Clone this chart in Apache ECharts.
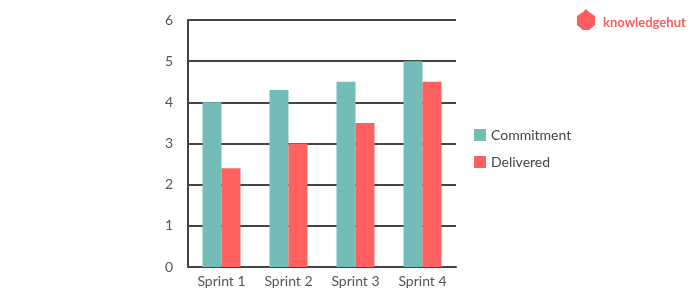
<!DOCTYPE html>
<html><head><meta charset="utf-8">
<script src="https://cdn.jsdelivr.net/npm/echarts@6/dist/echarts.min.js"></script>
<style>html,body{margin:0;padding:0;background:#fff}#c{width:700px;height:300px}</style>
</head><body><div id="c"></div>
<script>
const categories = ['Sprint 1','Sprint 2','Sprint 3','Sprint 4'];
const commitment = [4, 4.3, 4.5, 5];
const delivered = [2.4, 3, 3.5, 4.5];
const seriesNames = ['Commitment','Delivered'];
const chart = echarts.init(document.getElementById('c'));
chart.setOption({
  animation:false,
  textStyle:{fontFamily:'Lato'},
  grid:{left:188,right:244,top:20,bottom:33},
  legend:{orient:'vertical',left:469,top:123,itemWidth:12,itemHeight:12,itemGap:13,icon:'rect',
    textStyle:{fontSize:14,color:'#444',fontFamily:'Lato'},data:seriesNames},
  xAxis:{type:'category',data:categories,
    axisLine:{lineStyle:{color:'#444',width:2}},axisTick:{show:false},
    axisLabel:{fontSize:14,color:'#555',margin:7}},
  yAxis:{type:'value',min:0,max:6,interval:1,
    axisLine:{show:true,lineStyle:{color:'#444',width:2}},axisTick:{show:false},
    axisLabel:{fontSize:14,color:'#555',margin:15},
    splitLine:{lineStyle:{color:'#444',width:2}}},
  series:[
    {name:seriesNames[0],type:'bar',data:commitment,barWidth:19,barGap:'0%',itemStyle:{color:'#72BDB8'}},
    {name:seriesNames[1],type:'bar',data:delivered,barWidth:19,barGap:'0%',itemStyle:{color:'#FF6161'}}
  ],
  graphic:[
    {type:'polygon',shape:{points:[[577,16],[583,12],[586,9],[589,12],[595,16],[595,25],[589,30],[583,30],[577,25]]},style:{fill:'#FF5C5C'}},
    {type:'text',left:603,top:16,style:{text:'knowledgehut',fill:'#FF5C5C',font:'bold 13px Lato'}}
  ]
});
</script></body></html>
